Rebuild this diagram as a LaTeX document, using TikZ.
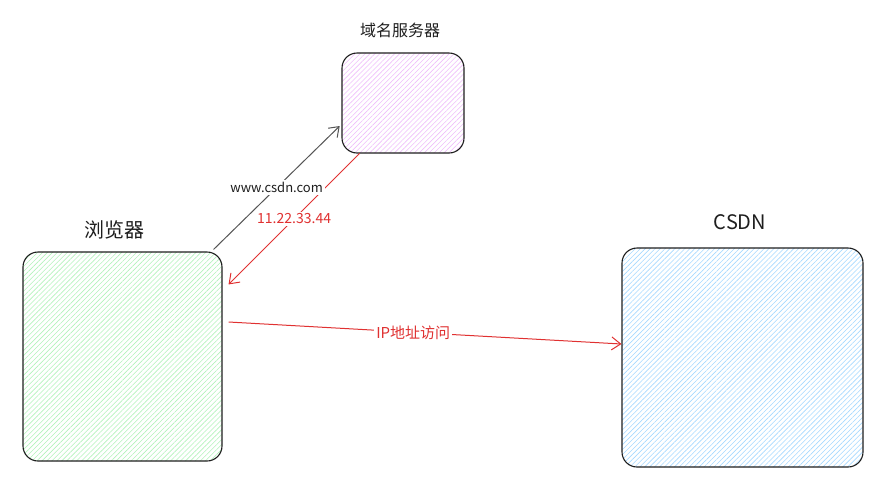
\documentclass[tikz,border=0pt]{standalone}
\usepackage{fontspec}
\setmainfont{Noto Sans CJK SC}
\usetikzlibrary{positioning,patterns.meta,arrows.meta}
\definecolor{inkblack}{HTML}{1E1E1E}
\definecolor{inkgray}{HTML}{555555}
\definecolor{inkred}{HTML}{E03131}
\definecolor{hatchpurple}{HTML}{EEBEFA}
\definecolor{hatchgreen}{HTML}{B2F2BB}
\definecolor{hatchblue}{HTML}{A5D8FF}

\begin{document}
\begin{tikzpicture}[x=1pt,y=-1pt,
          box/.style={draw=inkblack,line width=1.1pt,rounded corners=15pt,
            pattern={Lines[angle=45,distance=3.5pt,line width=0.6pt]}},
          title/.style={text=inkblack,inner sep=0pt},
          msg/.style={line width=1pt,-{Straight Barb[length=9pt,width=13pt]}},
          tag/.style={fill=white,inner sep=2pt,font=\fontsize{13}{13}\selectfont}]
          \useasboundingbox (0,0) rectangle (876,488);
          % the three hosts
          \node[box,pattern color=hatchpurple,minimum width=122pt,minimum height=100pt] (dns) at (403,103) {};
          \node[box,pattern color=hatchgreen,minimum width=199pt,minimum height=209pt] (browser) at (122.5,356.5) {};
          \node[box,pattern color=hatchblue,minimum width=241pt,minimum height=219pt] (csdn) at (742.5,357.5) {};
          \node[title,font=\fontsize{16}{16}\selectfont] (dnstitle) at (400,30) {域名服务器};
          \node[title,font=\fontsize{20}{20}\selectfont] (browsertitle) at (114,230) {浏览器};
          \node[title,font=\fontsize{20}{20}\selectfont] (csdntitle) at (740,222) {CSDN};
          % lookup and reply
          \draw[msg,inkred] ([xshift=18pt]dns.south west) -- node[tag,text=inkred,font=\fontsize{14}{14}\selectfont] (ipreply) {11.22.33.44} ([xshift=6pt,yshift=-33pt]browser.north east);
          \draw[msg,inkgray] ([xshift=-9pt,yshift=2pt]browser.north east) -- node[tag,text=inkblack] (domain) {www.csdn.com} ([xshift=-2pt,yshift=-23pt]dns.west);
          % visit by address
          \draw[msg,inkred] ([xshift=6pt,yshift=34.5pt]browser.east) -- node[tag,text=inkred,pos=0.47,font=\fontsize{15}{15}\selectfont] (visit) {IP地址访问} ([yshift=13.5pt]csdn.west);
        \end{tikzpicture}
\end{document}
